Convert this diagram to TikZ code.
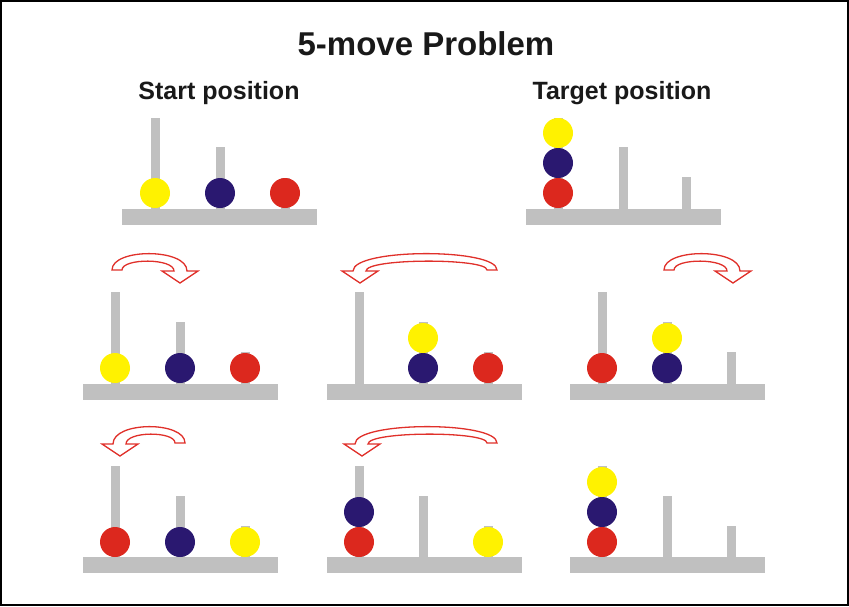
\documentclass[tikz,border=0pt]{standalone}
\usepackage{fontspec}
\setmainfont{Liberation Sans}
\definecolor{pg}{HTML}{C0C0C0}
\definecolor{by}{HTML}{FFF200}
\definecolor{bn}{HTML}{2A1870}
\definecolor{br}{HTML}{DC281E}
\definecolor{ar}{HTML}{E0302A}
\newcommand\hollowarrow[4]{% tail x, head x, y, dir
  \path[harrow] (#1,#3+2) .. controls (#1,#3-20) and ({#2+#4*7},#3-20) .. ({#2+#4*7},#3+3)
   -- ({#2+#4*18},#3+3) -- (#2,#3+15) -- ({#2-#4*18},#3+3) -- ({#2-#4*6},#3+3)
   .. controls ({#2-#4*6},#3-10) and ({#1+#4*10},#3-10) .. ({#1+#4*10},#3+2) -- cycle;}
\newcommand\board[3]{\fill[pg] (#1,#2) rectangle ++(195,16);}
\newcommand\peg[3]{\fill[pg] ({#1-4.5},#2) rectangle ({#1+4.5},#3);}
\newcommand\ball[3]{\fill[#1] (#2,#3) circle (15);}
\begin{document}
\begin{tikzpicture}[x=1pt,y=-1pt,
  harrow/.style={draw=ar,fill=white,line width=1.3pt,line join=miter},
  ttl/.style={font=\bfseries\fontsize{33}{38}\selectfont,text=black!90},
  sub/.style={font=\bfseries\fontsize{25}{30}\selectfont,text=black!90}]
\useasboundingbox (0,0) rectangle (849,606);
\draw[line width=2pt] (1,1) rectangle (848,605);
\node[ttl] (t) at (426,44) {5-move Problem};
\node[sub] (s) at (219,93) {Start position};
\node[sub] (g) at (622,93) {Target position};
% start
\board{122}{209}{}
\peg{155}{118}{209}\peg{220}{147}{209}\peg{285}{178}{209}
\ball{by}{155}{193}\ball{bn}{220}{193}\ball{br}{285}{193}
% target
\board{526}{209}{}
\peg{558}{118}{209}\peg{623}{147}{209}\peg{686}{177}{209}
\ball{br}{558}{193}\ball{bn}{558}{163}\ball{by}{558}{133}
% row 2
\board{83}{384}{}
\peg{115}{292}{384}\peg{180}{322}{384}\peg{245}{352}{384}
\ball{by}{115}{368}\ball{bn}{180}{368}\ball{br}{245}{368}
\board{327}{384}{}
\peg{359}{292}{384}\peg{423}{322}{384}\peg{488}{352}{384}
\ball{bn}{423}{368}\ball{by}{423}{338}\ball{br}{488}{368}
\board{570}{384}{}
\peg{602}{292}{384}\peg{667}{322}{384}\peg{731}{352}{384}
\ball{br}{602}{368}\ball{bn}{667}{368}\ball{by}{667}{338}
% row 3
\board{83}{557}{}
\peg{115}{466}{557}\peg{180}{496}{557}\peg{245}{526}{557}
\ball{br}{115}{542}\ball{bn}{180}{542}\ball{by}{245}{542}
\board{327}{557}{}
\peg{359}{466}{557}\peg{423}{496}{557}\peg{488}{526}{557}
\ball{br}{359}{542}\ball{bn}{359}{512}\ball{by}{488}{542}
\board{570}{557}{}
\peg{602}{466}{557}\peg{667}{496}{557}\peg{731}{526}{557}
\ball{br}{602}{542}\ball{bn}{602}{512}\ball{by}{602}{482}
% arrows
\hollowarrow{112}{180}{268}{1}
\hollowarrow{497}{360}{268}{-1}
\hollowarrow{664}{733}{268}{1}
\hollowarrow{185}{120}{441}{-1}
\hollowarrow{497}{362}{441}{-1}
\end{tikzpicture}
\end{document}
